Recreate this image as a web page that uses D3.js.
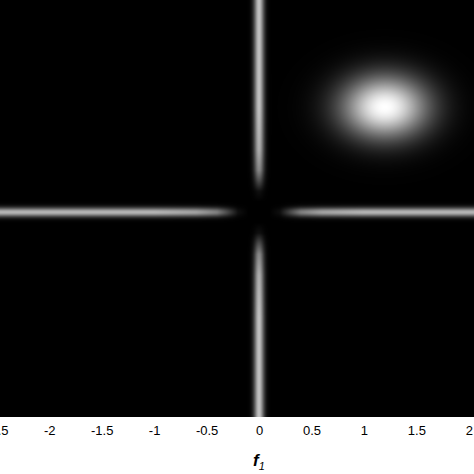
<!DOCTYPE html>
<html><head><meta charset="utf-8">
<script src="https://cdn.jsdelivr.net/npm/d3@7"></script>
<style>body{margin:0;background:#fff}</style></head>
<body><script>
const xTicks = [-2.5,-2,-1.5,-1,-0.5,0,0.5,1,1.5,2];
const xDomain = [-2.47, 2.05];
const yDomain = [-1.95, 2.02];
// Gaussian blob: [center f1, center f2, sigma f1, sigma f2, peak]
const blob = [1.2, 1.0, 0.29, 0.21, 1.0];
// axis-line brightness and cross-section width
const lineLevel = [0.75, 0.7]; // vertical, horizontal
const lineSigma = [0.034, 0.031];
// taper toward origin: distance from origin vs gain
const taperDist = [0, 0.1, 0.2, 0.3, 0.4, 0.6, 1.0, 3.0];
const taperGain = [0, 0, 0.08, 0.4, 0.7, 0.9, 1.0, 1.0];

const W=474, H=474, plotH=417;
const x=d3.scaleLinear().domain(xDomain).range([0,W]);
const y=d3.scaleLinear().domain(yDomain).range([plotH,0]);
const taper=d3.scaleLinear().domain(taperDist).range(taperGain).clamp(true);

const cv=document.createElement('canvas'); cv.width=W; cv.height=plotH;
const ctx=cv.getContext('2d'); const img=ctx.createImageData(W,plotH);
for(let j=0;j<plotH;j++){const f2=y.invert(j+0.5);
 for(let i=0;i<W;i++){const f1=x.invert(i+0.5);
  let v=blob[4]*Math.exp(-((f1-blob[0])**2/(2*blob[2]**2)+(f2-blob[1])**2/(2*blob[3]**2)));
  v+=lineLevel[0]*Math.exp(-(f1**2)/(2*lineSigma[0]**2))*taper(Math.abs(f2));
  v+=lineLevel[1]*Math.exp(-(f2**2)/(2*lineSigma[1]**2))*taper(Math.abs(f1));
  v=Math.min(1,v); const k=(j*W+i)*4, c=Math.round(v*255);
  img.data[k]=img.data[k+1]=img.data[k+2]=c; img.data[k+3]=255;}}
ctx.putImageData(img,0,0);

const svg=d3.select('body').append('svg').attr('width',W).attr('height',H);
svg.append('image').attr('x',0).attr('y',0).attr('width',W).attr('height',plotH).attr('href',cv.toDataURL());
const ax=svg.append('g').attr('transform',`translate(0,${plotH})`)
 .call(d3.axisBottom(x).tickValues(xTicks).tickSize(0).tickPadding(9).tickFormat(d=>String(d)));
ax.select('.domain').remove();
ax.selectAll('text').attr('font-family','Arial, Liberation Sans').attr('font-size',13).attr('fill','#000');
const lab=svg.append('text').attr('x',x(0)).attr('y',466).attr('text-anchor','middle')
 .attr('font-family','Arial, Liberation Sans').attr('font-style','italic').attr('font-weight','bold').attr('font-size',17);
lab.append('tspan').text('f');
lab.append('tspan').attr('font-size',11).attr('dy',4).attr('font-weight','normal').text('1');
</script></body></html>
